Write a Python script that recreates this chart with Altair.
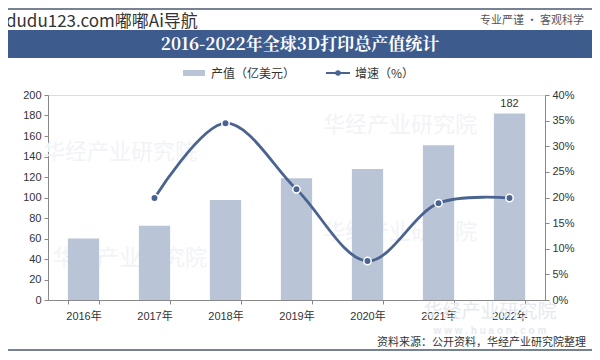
import altair as alt
import pandas as pd

years = ["2016年", "2017年", "2018年", "2019年", "2020年", "2021年", "2022年"]
output_value = [60, 72.5, 97.6, 118.7, 127.8, 151, 182]
growth = [None, 0.199, 0.345, 0.216, 0.076, 0.189, 0.199]

FONT = "Liberation Sans, Noto Sans CJK SC, sans-serif"
CJK = "Noto Sans CJK SC, sans-serif"
BAR = "#b9c4d7"
LINE = "#4b6390"

# plot area in page coords: left 48, top 95, right 545, bottom 300
W, H = 497, 205
OX, OY = 48, 95  # page offset of plot origin


def px(x):
    return x - OX


def py(y):
    return y - OY


df = pd.DataFrame({"year": years, "value": output_value, "growth": growth})

xenc = alt.X("year:N", sort=years, title=None,
             scale=alt.Scale(paddingInner=0.56, paddingOuter=0.28),
             axis=alt.Axis(labelAngle=0, labelFontSize=11, labelColor="#333",
                           labelFont=FONT, tickBand="extent", domainColor="#888",
                           tickColor="#888", tickSize=4, labelPadding=6))

vy = alt.Y("value:Q", title=None,
           scale=alt.Scale(domain=[0, 200], nice=False),
           axis=alt.Axis(values=list(range(0, 201, 20)), orient="left",
                         grid=False, labelFontSize=11, labelColor="#333",
                         labelFont=FONT, domainColor="#888", tickColor="#888",
                         tickSize=4, labelPadding=3, labelOverlap=False))

bars = alt.Chart(df).mark_bar(color=BAR).encode(x=xenc, y=vy)

last_label = alt.Chart(df[df["year"] == "2022年"]).mark_text(
    dy=-9, fontSize=11, font=FONT, color="#333"
).encode(x=xenc, y=vy, text="value:Q")

gdf = df.dropna()
gy = alt.Y("growth:Q", title=None,
           scale=alt.Scale(domain=[0, 0.4], nice=False),
           axis=alt.Axis(values=[i / 100 for i in range(0, 41, 5)], format=".0%",
                         orient="right", grid=False, labelFontSize=11,
                         labelColor="#333", labelFont=FONT, domainColor="#888",
                         tickColor="#888", tickSize=4, labelPadding=3, labelOverlap=False))
line = alt.Chart(gdf).mark_line(color=LINE, strokeWidth=2.8, interpolate="catmull-rom").encode(
    x=xenc, y=gy)
points = alt.Chart(gdf).mark_point(filled=True, size=55, color=LINE, stroke="white",
                                   strokeWidth=1.5, opacity=1).encode(x=xenc, y=gy)


def txt(t, x, y, **kw):
    return alt.Chart(pd.DataFrame({"t": [t]})).mark_text(**kw).encode(
        x=alt.value(px(x)), y=alt.value(py(y)), text="t:N")


def rect(x1, x2, y1, y2, color, opacity=1):
    return alt.Chart(pd.DataFrame({"a": [0]})).mark_rect(color=color, opacity=opacity).encode(
        x=alt.value(px(x1)), x2=alt.value(px(x2)), y=alt.value(py(y1)), y2=alt.value(py(y2)))


def rule(x1, x2, y, color, width=1):
    return alt.Chart(pd.DataFrame({"a": [0]})).mark_rule(color=color, strokeWidth=width).encode(
        x=alt.value(px(x1)), x2=alt.value(px(x2)), y=alt.value(py(y)))


# faint watermarks
WMC = "#f1f3f7"
wm = alt.layer(
    txt("华经产业研究院", 120, 152, font=CJK, fontSize=22, color=WMC),
    txt("华经产业研究院", 400, 125, font=CJK, fontSize=22, color=WMC),
    txt("华经产业研究院", 130, 258, font=CJK, fontSize=22, color=WMC),
    txt("华经产业研究院", 400, 232, font=CJK, fontSize=22, color=WMC),
    txt("华经产业研究院", 490, 312, font=CJK, fontSize=19, color="#e6e9ef"),
    txt("w w w . h u a o n . c o m", 490, 331, font=FONT, fontSize=10, fontWeight="bold", color="#e6e9ef"),
)

decor = alt.layer(
    rule(6, 592, 9, "#4a5872", 1.5),
    txt("dudu123.com嘟嘟Ai导航", 6, 22, font=CJK, fontSize=17, color="#333", align="left"),
    txt("专业严谨 • 客观科学", 584, 21, font=CJK, fontSize=11, color="#555", align="right"),
    rect(6, 592, 30, 58, "#3e5b8e"),
    txt("2016-2022年全球3D打印总产值统计", 300, 45, font="Noto Serif CJK SC, Noto Sans CJK SC, serif",
        fontSize=17, fontWeight="bold", color="white"),
    rect(183, 205, 70, 76, BAR),
    txt("产值（亿美元）", 211, 74, font=CJK, fontSize=12, color="#333", align="left"),
    rule(326, 350, 73, LINE, 2),
    txt("增速（%）", 355, 74, font=CJK, fontSize=12, color="#333", align="left"),
    txt("资料来源：公开资料，华经产业研究院整理", 586, 343, font=CJK, fontSize=11, color="#333", align="right"),
    rule(6, 592, 350, "#4a5872", 1.5),
)
legend_dot = alt.Chart(pd.DataFrame({"a": [0]})).mark_point(
    filled=True, size=30, color=LINE, opacity=1).encode(x=alt.value(px(338)), y=alt.value(py(73)))

left = alt.layer(wm, bars, last_label, decor, legend_dot)
right = alt.layer(line, points)

chart = alt.layer(left, right).resolve_scale(y="independent").properties(
    width=W, height=H,
    autosize=alt.AutoSizeParams(type="none"),
    padding={"left": OX - 8, "top": OY - 8, "right": 584 - (OX - 8) - W, "bottom": 344 - (OY - 8) - H},
).configure_view(stroke=None).configure(background="white")

chart.save("out.html", embed_options={"renderer": "svg", "actions": False})
